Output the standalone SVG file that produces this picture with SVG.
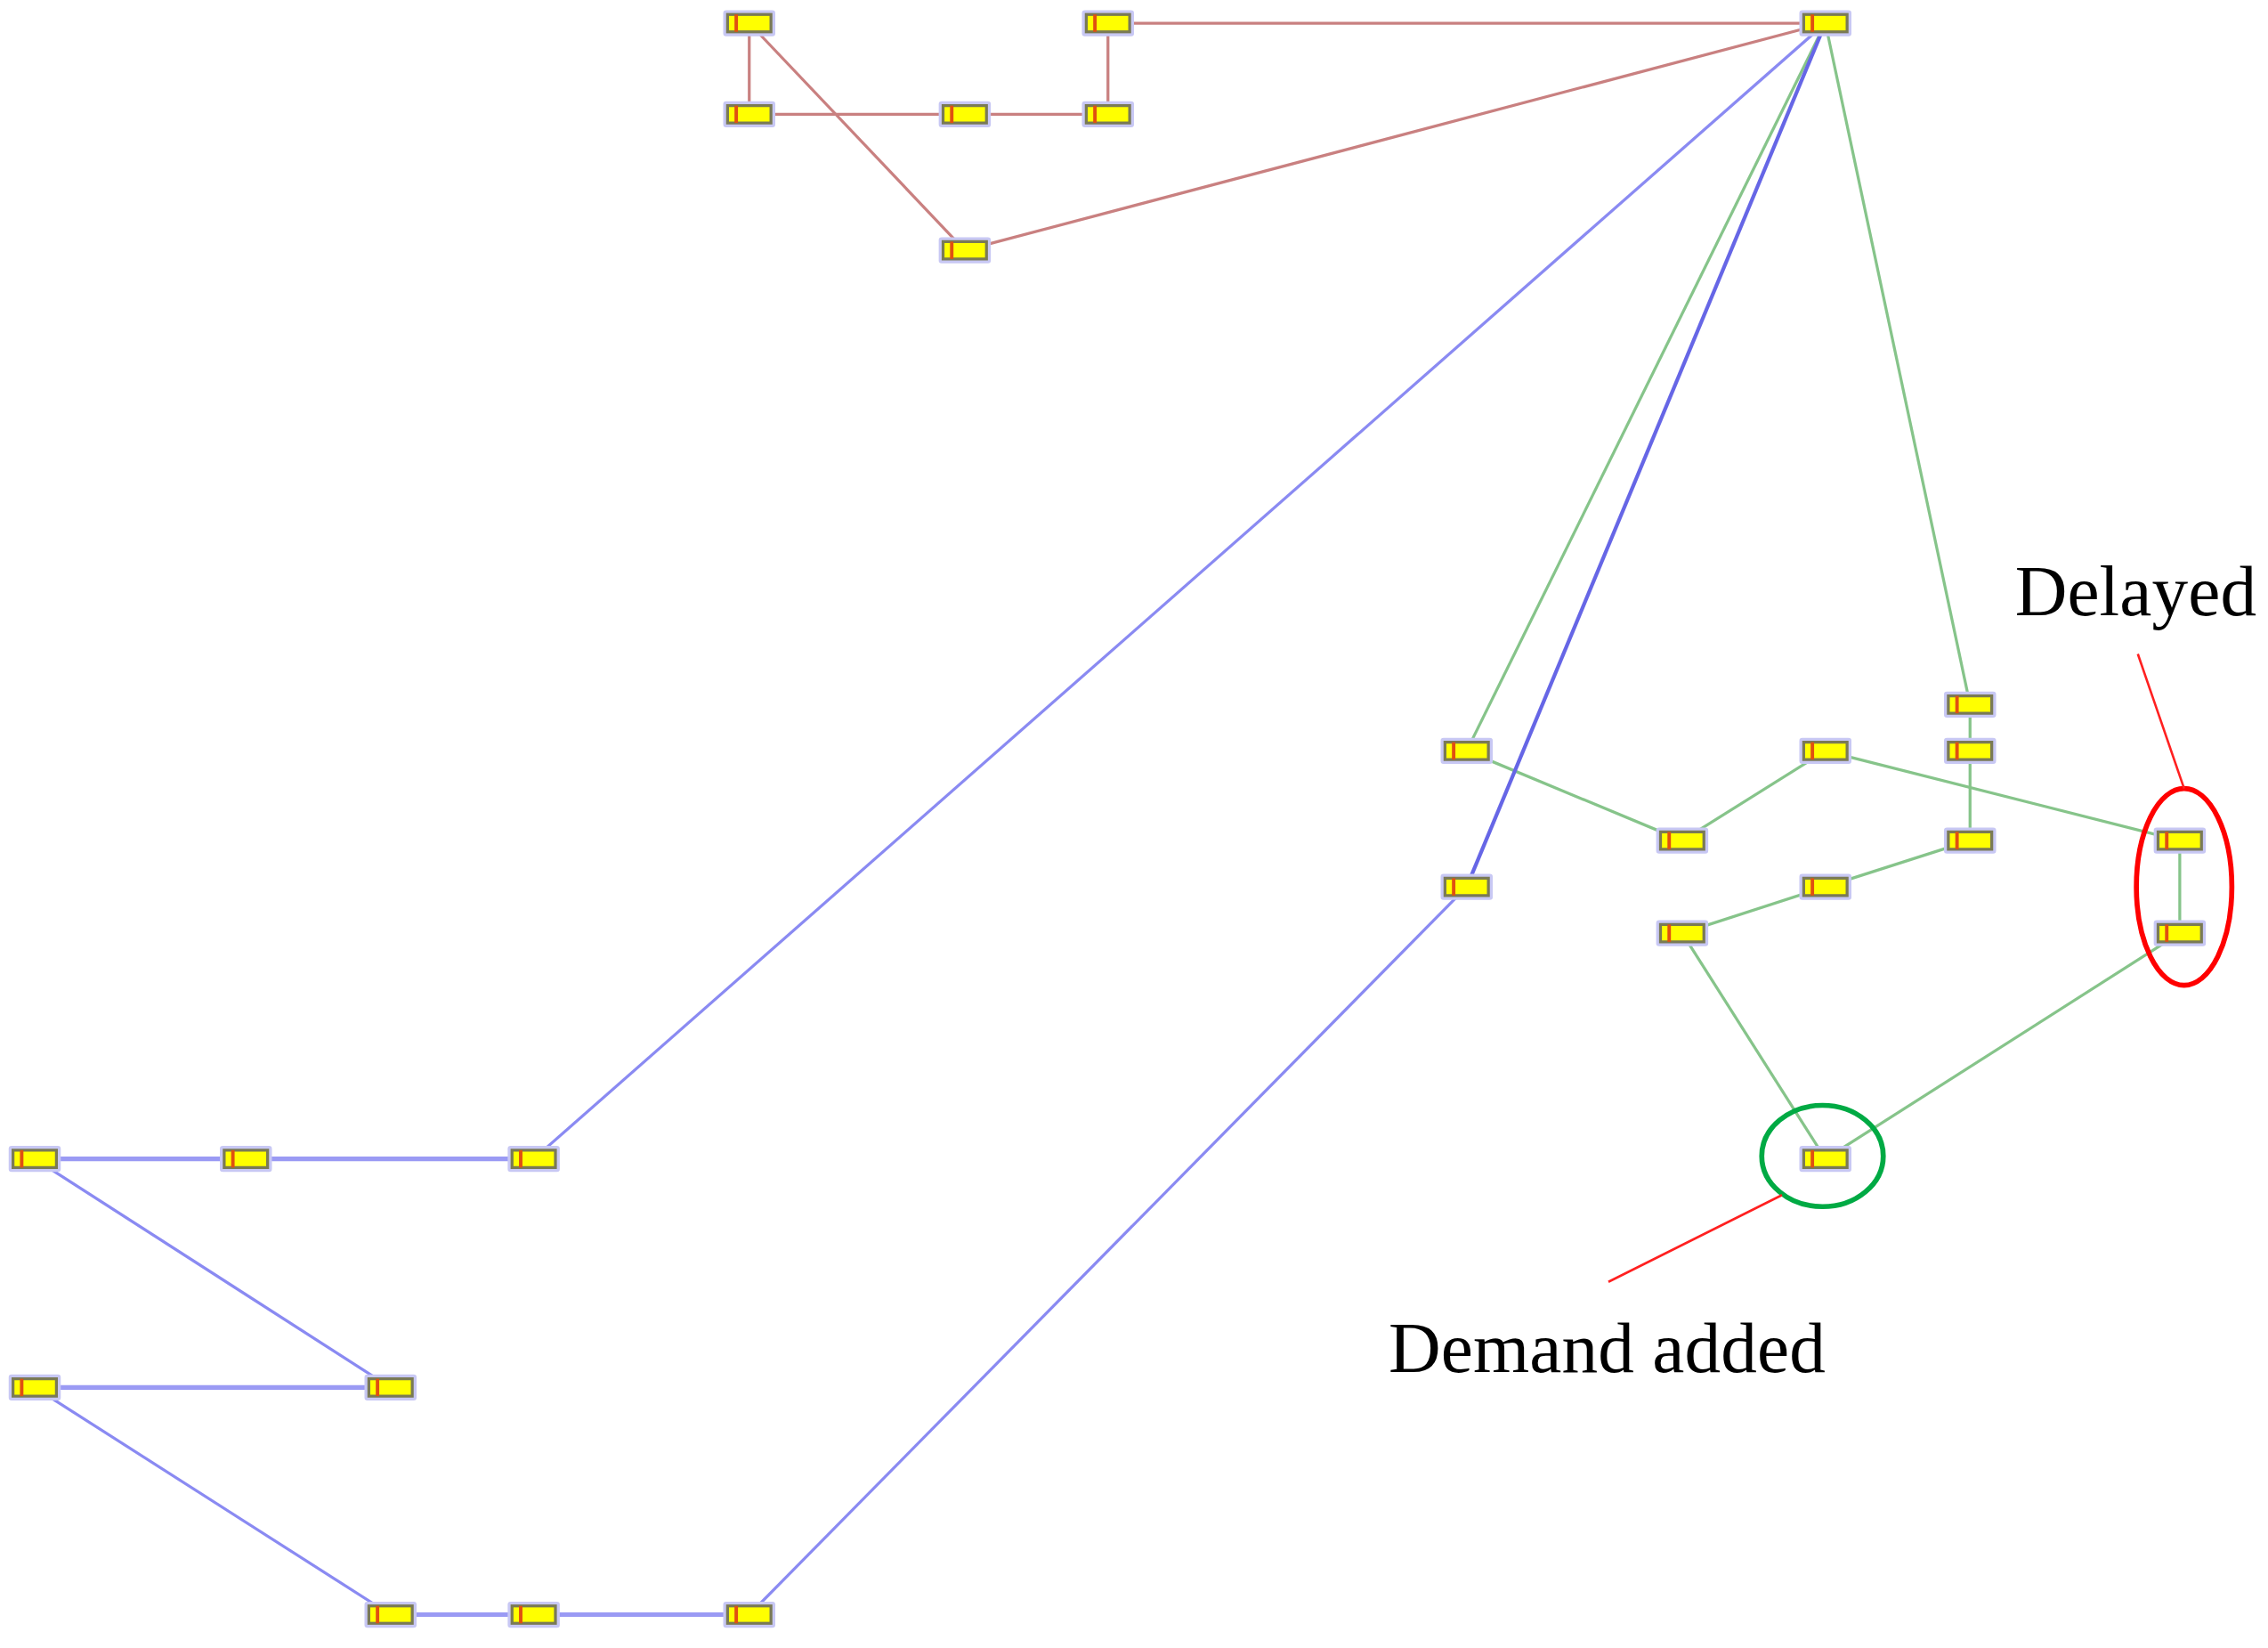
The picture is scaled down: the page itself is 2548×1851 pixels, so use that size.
<svg xmlns="http://www.w3.org/2000/svg" width="2548" height="1851" viewBox="0 0 2548 1851">
<defs>
<style>
.br{stroke:#c98080;stroke-width:2;fill:none}
.gr{stroke:#86c48a;stroke-width:2;fill:none}
.bl{stroke:#8a8af2;stroke-width:2;fill:none}
.bl2{stroke:#6666e6;stroke-width:2.6;fill:none}
.blh{stroke:#9a9af4;stroke-width:3.2;fill:none}
.halo{fill:#c8c8f4}
.box{fill:#ffff00;stroke:#7a7a55;stroke-width:2}
.mk{stroke:#e05010;stroke-width:2.4}
.lbl{font-family:"Liberation Serif","Times New Roman",serif;font-size:50px;fill:#000}
</style>
<g id="nd">
<rect class="halo" x="-18" y="-9" width="36" height="18" rx="2"/>
<rect class="box" x="-15" y="-6" width="30" height="12"/>
<line class="mk" x1="-9" y1="-6" x2="-9" y2="6"/>
</g>
</defs>
<rect width="2548" height="1851" fill="#fff"/>
<g transform="scale(1.625)">
<g id="connectors">
<line class="br" x1="518" y1="16" x2="518" y2="79"/>
<line class="br" x1="518" y1="16" x2="667" y2="173"/>
<line class="br" x1="518" y1="79" x2="667" y2="79"/>
<line class="br" x1="667" y1="79" x2="766" y2="79"/>
<line class="br" x1="766" y1="79" x2="766" y2="16"/>
<line class="br" x1="766" y1="16" x2="1262" y2="16"/>
<line class="br" x1="667" y1="173" x2="1262" y2="16"/>
<line class="gr" x1="1262" y1="16" x2="1014" y2="519"/>
<line class="gr" x1="1262" y1="16" x2="1362" y2="487"/>
<line class="gr" x1="1362" y1="487" x2="1362" y2="581"/>
<line class="gr" x1="1014" y1="519" x2="1163" y2="581"/>
<line class="gr" x1="1163" y1="581" x2="1262" y2="519"/>
<line class="gr" x1="1262" y1="519" x2="1507" y2="581"/>
<line class="gr" x1="1507" y1="581" x2="1507" y2="645"/>
<line class="gr" x1="1362" y1="581" x2="1262" y2="613"/>
<line class="gr" x1="1262" y1="613" x2="1163" y2="645"/>
<line class="gr" x1="1163" y1="645" x2="1262" y2="801"/>
<line class="gr" x1="1262" y1="801" x2="1507" y2="645"/>
<line class="bl" x1="1262" y1="16" x2="369" y2="801"/>
<line class="bl2" x1="1262" y1="16" x2="1014" y2="613"/>
<line class="blh" x1="369" y1="801" x2="24" y2="801"/>
<line class="bl" x1="24" y1="801" x2="270" y2="959"/>
<line class="blh" x1="270" y1="959" x2="24" y2="959"/>
<line class="bl" x1="24" y1="959" x2="270" y2="1116"/>
<line class="blh" x1="270" y1="1116" x2="518" y2="1116"/>
<line class="bl" x1="518" y1="1116" x2="1014" y2="613"/>
</g>
<g id="n1"><use href="#nd" x="518" y="16"/></g>
<g id="n2"><use href="#nd" x="766" y="16"/></g>
<g id="n3"><use href="#nd" x="1262" y="16"/></g>
<g id="n4"><use href="#nd" x="518" y="79"/></g>
<g id="n5"><use href="#nd" x="667" y="79"/></g>
<g id="n6"><use href="#nd" x="766" y="79"/></g>
<g id="n7"><use href="#nd" x="667" y="173"/></g>
<g id="n8"><use href="#nd" x="1362" y="487"/></g>
<g id="n9"><use href="#nd" x="1362" y="519"/></g>
<g id="n10"><use href="#nd" x="1014" y="519"/></g>
<g id="n11"><use href="#nd" x="1262" y="519"/></g>
<g id="n12"><use href="#nd" x="1163" y="581"/></g>
<g id="n13"><use href="#nd" x="1362" y="581"/></g>
<g id="n14"><use href="#nd" x="1507" y="581"/></g>
<g id="n15"><use href="#nd" x="1262" y="613"/></g>
<g id="n16"><use href="#nd" x="1163" y="645"/></g>
<g id="n17"><use href="#nd" x="1507" y="645"/></g>
<g id="n18"><use href="#nd" x="1262" y="801"/></g>
<g id="n19"><use href="#nd" x="1014" y="613"/></g>
<g id="n20"><use href="#nd" x="369" y="801"/></g>
<g id="n21"><use href="#nd" x="170" y="801"/></g>
<g id="n22"><use href="#nd" x="24" y="801"/></g>
<g id="n23"><use href="#nd" x="270" y="959"/></g>
<g id="n24"><use href="#nd" x="24" y="959"/></g>
<g id="n25"><use href="#nd" x="270" y="1116"/></g>
<g id="n26"><use href="#nd" x="369" y="1116"/></g>
<g id="n27"><use href="#nd" x="518" y="1116"/></g>
<g id="annotations">
<ellipse cx="1510" cy="613" rx="33" ry="68" fill="none" stroke="#ff0000" stroke-width="3.5"/>
<ellipse cx="1260" cy="799" rx="42" ry="35" fill="none" stroke="#00aa44" stroke-width="3.5"/>
<line x1="1478" y1="452" x2="1510" y2="545" stroke="#ff2020" stroke-width="1.6"/>
<line x1="1232" y1="826" x2="1112" y2="886" stroke="#ff2020" stroke-width="1.6"/>
<text class="lbl" x="1393" y="425" textLength="167">Delayed</text>
<text class="lbl" x="960" y="948" textLength="302">Demand added</text>
</g>
</g>
</svg>
